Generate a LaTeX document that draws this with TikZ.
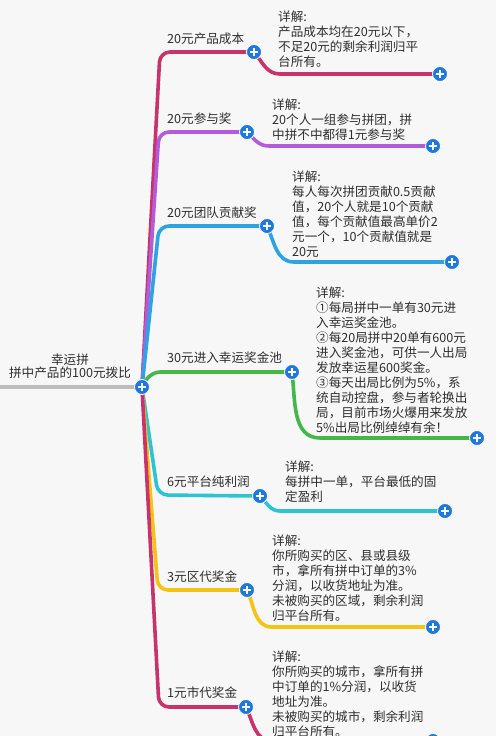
\documentclass[tikz,border=0pt]{standalone}
\usepackage{fontspec}
\setmainfont{Noto Sans CJK SC}
\definecolor{bgc}{HTML}{F7F7F7}
\definecolor{crim}{HTML}{C7336A}
\definecolor{purp}{HTML}{B45BD9}
\definecolor{sky}{HTML}{2EA3E3}
\definecolor{grn}{HTML}{45B649}
\definecolor{cyn}{HTML}{2EC3D3}
\definecolor{yel}{HTML}{F3C316}
\definecolor{pblue}{HTML}{1F78DC}
\definecolor{txt}{HTML}{2E2E2E}
\definecolor{rootgray}{HTML}{BDBDBD}
\pgfdeclarelayer{bg}
\pgfdeclarelayer{back}
\pgfsetlayers{back,bg,main}
\tikzset{
  plusnode/.style={circle, fill=pblue, draw=white, line width=0.8pt, minimum size=15pt, inner sep=0pt,
    path picture={
      \draw[white,line width=2.2pt] ([xshift=-4pt]path picture bounding box.center) -- ([xshift=4pt]path picture bounding box.center);
      \draw[white,line width=2.2pt] ([yshift=-4pt]path picture bounding box.center) -- ([yshift=4pt]path picture bounding box.center);}},
  bline/.style={line width=3.6pt, rounded corners=10pt, line cap=round},
  dline/.style={line width=3.6pt, line cap=round},
  lbl/.style={anchor=base west, inner sep=0pt, text=txt, font=\fontsize{12.6}{15}\selectfont},
  detail/.style={anchor=north west, inner sep=0pt, align=left, text=txt, font=\fontsize{12.6}{15}\selectfont},
  roottext/.style={anchor=north, inner sep=0pt, align=center, text=txt, font=\fontsize{12.6}{13}\selectfont},
}
\begin{document}
\begin{tikzpicture}[x=1pt,y=-1pt]
\useasboundingbox (0,0) rectangle (496,736);
\clip (0,0) rectangle (496,736);
\begin{pgfonlayer}{back}
\fill[bgc] (0,0) rectangle (496,736);
\end{pgfonlayer}

% root
\coordinate (rootleft) at (0,387);
\node[plusnode] (root) at (142,387) {};
\node[roottext] (roott) at (70,353.5) {幸运拼\\拼中产品的100元拨比};

% branch plus nodes
\node[plusnode] (p1) at (254,52) {};
\node[plusnode] (p2) at (247,132) {};
\node[plusnode] (p3) at (267,226) {};
\node[plusnode] (p4) at (292,372) {};
\node[plusnode] (p5) at (260,496) {};
\node[plusnode] (p6) at (247,590) {};
\node[plusnode] (p7) at (246,707) {};

% detail plus nodes
\node[plusnode] (d1) at (440,74) {};
\node[plusnode] (d2) at (433,146) {};
\node[plusnode] (d3) at (452,262) {};
\node[plusnode] (d4) at (477,438) {};
\node[plusnode] (d5) at (445,511) {};
\node[plusnode] (d6) at (433,627) {};
\node[plusnode] (d7) at (433,741) {};

% labels
\node[lbl] (l1) at (167,43.8) {20元产品成本};
\node[lbl] (l2) at (167,123.8) {20元参与奖};
\node[lbl] (l3) at (167,217.8) {20元团队贡献奖};
\node[lbl] (l4) at (167,362.8) {30元进入幸运奖金池};
\node[lbl] (l5) at (167,486.8) {6元平台纯利润};
\node[lbl] (l6) at (167,581.8) {3元区代奖金};
\node[lbl] (l7) at (167,697.8) {1元市代奖金};

% details
\node[detail] (t1) at (278,10.7) {详解:\\产品成本均在20元以下，\\不足20元的剩余利润归平\\台所有。};
\node[detail] (t2) at (272,98.7) {详解:\\20个人一组参与拼团，拼\\中拼不中都得1元参与奖};
\node[detail] (t3) at (292,170.7) {详解:\\每人每次拼团贡献0.5贡献\\值，20个人就是10个贡献\\值，每个贡献值最高单价2\\元一个，10个贡献值就是\\20元};
\node[detail] (t4) at (316,286.7) {详解:\\①每局拼中一单有30元进\\入幸运奖金池。\\②每20局拼中20单有600元\\进入奖金池，可供一人出局\\发放幸运星600奖金。\\③每天出局比例为5\%，系\\统自动控盘，参与者轮换出\\局，目前市场火爆用来发放\\5\%出局比例绰绰有余！};
\node[detail] (t5) at (285,460.7) {详解:\\每拼中一单，平台最低的固\\定盈利};
\node[detail] (t6) at (272,534.7) {详解:\\你所购买的区、县或县级\\市，拿所有拼中订单的3\%\\分润，以收货地址为准。\\未被购买的区域，剩余利润\\归平台所有。};
\node[detail] (t7) at (272,650.7) {详解:\\你所购买的城市，拿所有拼\\中订单的1\%分润，以收货\\地址为准。\\未被购买的城市，剩余利润\\归平台所有。};

\begin{pgfonlayer}{bg}
\draw[line width=3.6pt, rootgray] (rootleft) -- (root.center);
\draw[bline, crim] (root.center) -- (160,52) -- (p1.center);
\draw[bline, purp] (root.center) -- (159,132) -- (p2.center);
\draw[bline, sky] (root.center) -- (159,226) -- (p3.center);
\draw[bline, rounded corners=9pt, grn] (root.center) -- (151,372) -- (p4.center);
\draw[bline, cyn] (root.center) -- (158,495) -- (p5.center);
\draw[bline, yel] (root.center) -- (158,590) -- (p6.center);
\draw[bline, crim] (root.center) -- (159,707) -- (p7.center);

\draw[dline, crim] (p1.center) to[out=-50,in=180] (280,74) -- (d1.center);
\draw[dline, purp] (p2.center) to[out=-45,in=180] (269,146) -- (d2.center);
\draw[dline, sky] (p3.center) to[out=-65,in=180] (294,262) -- (d3.center);
\draw[dline, grn] (p4.center) to[out=-83,in=180] (320,438) -- (d4.center);
\draw[dline, cyn] (p5.center) to[out=-45,in=180] (280,511) -- (d5.center);
\draw[dline, yel] (p6.center) to[out=-65,in=180] (272,627) -- (d6.center);
\draw[dline, crim] (p7.center) to[out=-65,in=180] (272,741) -- (d7.center);
\end{pgfonlayer}
\end{tikzpicture}
\end{document}
